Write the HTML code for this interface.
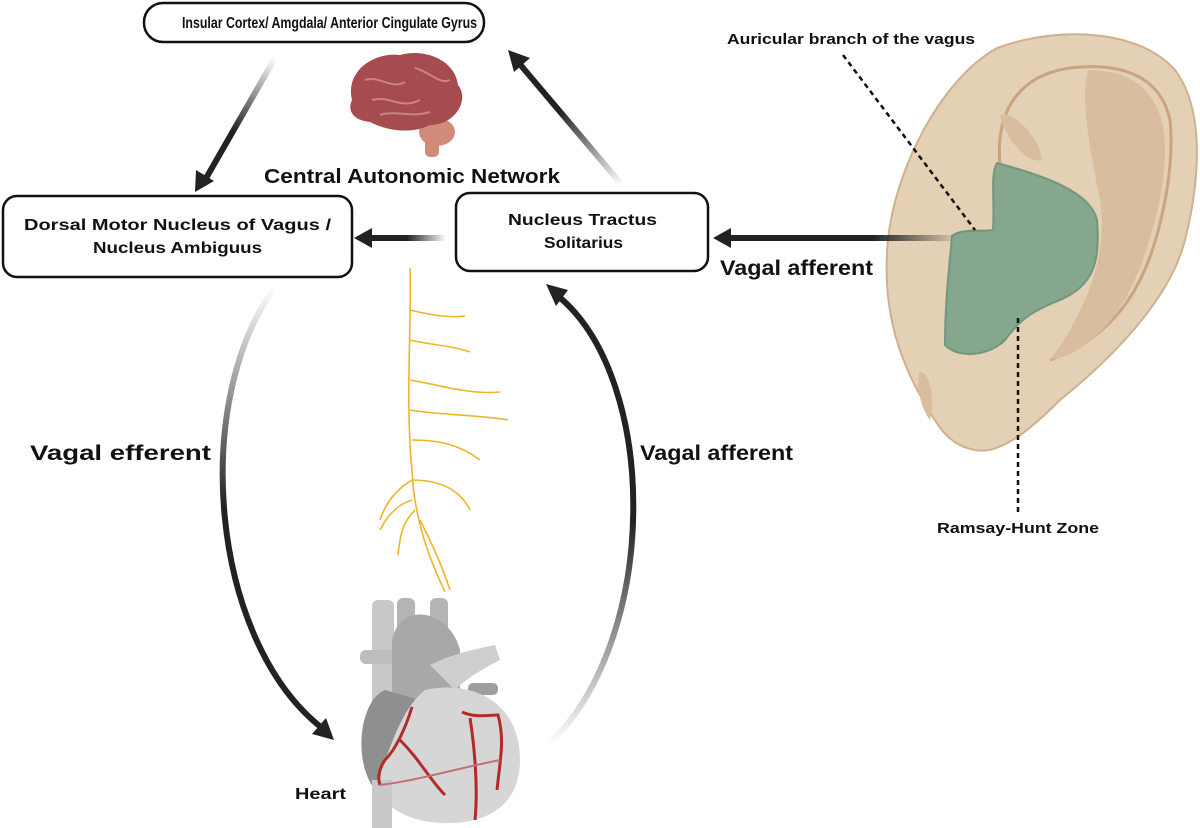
<!DOCTYPE html>
<html><head><meta charset="utf-8"><style>
body{margin:0;background:#fff}
svg{display:block}
text{font-family:"Liberation Sans",sans-serif;font-weight:bold;fill:#111}
</style></head><body>
<svg width="1200" height="828" viewBox="0 0 1200 828" xmlns="http://www.w3.org/2000/svg">
<defs>
<linearGradient id="g1" gradientUnits="userSpaceOnUse" x1="275" y1="58" x2="205" y2="180"><stop offset="0" stop-color="#222" stop-opacity="0"/><stop offset="0.6" stop-color="#222"/></linearGradient>
<linearGradient id="g2" gradientUnits="userSpaceOnUse" x1="622" y1="185" x2="518" y2="62"><stop offset="0" stop-color="#222" stop-opacity="0"/><stop offset="0.6" stop-color="#222"/></linearGradient>
<linearGradient id="gh1" gradientUnits="userSpaceOnUse" x1="446" y1="0" x2="368" y2="0"><stop offset="0" stop-color="#222" stop-opacity="0"/><stop offset="0.5" stop-color="#222"/></linearGradient>
<linearGradient id="gh2" gradientUnits="userSpaceOnUse" x1="952" y1="0" x2="728" y2="0"><stop offset="0" stop-color="#222" stop-opacity="0.1"/><stop offset="0.35" stop-color="#222"/></linearGradient>
<linearGradient id="gl" gradientUnits="userSpaceOnUse" x1="0" y1="286" x2="0" y2="730"><stop offset="0" stop-color="#222" stop-opacity="0"/><stop offset="0.5" stop-color="#222"/></linearGradient>
<linearGradient id="gr" gradientUnits="userSpaceOnUse" x1="0" y1="745" x2="0" y2="296"><stop offset="0" stop-color="#222" stop-opacity="0"/><stop offset="0.5" stop-color="#222"/></linearGradient>
</defs>
<!-- boxes -->
<rect x="144" y="3" width="340" height="39" rx="19" fill="#fff" stroke="#111" stroke-width="2.5"/>
<text x="182" y="28" font-size="16" textLength="295" lengthAdjust="spacingAndGlyphs">Insular Cortex/ Amgdala/ Anterior Cingulate Gyrus</text>
<rect x="3" y="196" width="349" height="81" rx="14" fill="#fff" stroke="#111" stroke-width="2.5"/>
<text x="24" y="230" font-size="16" textLength="307" lengthAdjust="spacingAndGlyphs">Dorsal Motor Nucleus of Vagus /</text>
<text x="93" y="253" font-size="16" textLength="169" lengthAdjust="spacingAndGlyphs">Nucleus Ambiguus</text>
<rect x="456" y="193" width="252" height="78" rx="14" fill="#fff" stroke="#111" stroke-width="2.5"/>
<text x="508" y="225" font-size="16" textLength="149" lengthAdjust="spacingAndGlyphs">Nucleus Tractus</text>
<text x="544" y="248" font-size="16" textLength="79" lengthAdjust="spacingAndGlyphs">Solitarius</text>
<!-- arrows -->
<line x1="275" y1="58" x2="205" y2="180" stroke="url(#g1)" stroke-width="6"/>
<polygon points="195,192 196,170 214,181" fill="#222"/>
<line x1="622" y1="185" x2="518" y2="62" stroke="url(#g2)" stroke-width="6"/>
<polygon points="508,50 530,58 514,72" fill="#222"/>
<line x1="446" y1="238" x2="368" y2="238" stroke="url(#gh1)" stroke-width="6"/>
<polygon points="354,238 372,228 372,248" fill="#222"/>
<path d="M276,286 C190,400 210,640 322,728" fill="none" stroke="url(#gl)" stroke-width="6"/>
<polygon points="334,740 312,734 326,718" fill="#222"/>
<path d="M548,745 C660,640 660,380 558,296" fill="none" stroke="url(#gr)" stroke-width="6"/>
<polygon points="546,284 568,290 556,306" fill="#222"/>
<!-- labels -->
<text x="264" y="183" font-size="20" textLength="296" lengthAdjust="spacingAndGlyphs">Central Autonomic Network</text>
<text x="30" y="460" font-size="21" textLength="181" lengthAdjust="spacingAndGlyphs">Vagal efferent</text>
<text x="640" y="460" font-size="21" textLength="153" lengthAdjust="spacingAndGlyphs">Vagal afferent</text>
<text x="720" y="275" font-size="21" textLength="153" lengthAdjust="spacingAndGlyphs">Vagal afferent</text>
<text x="295" y="799" font-size="16" textLength="51" lengthAdjust="spacingAndGlyphs">Heart</text>
<text x="727" y="44" font-size="15" textLength="248" lengthAdjust="spacingAndGlyphs">Auricular branch of the vagus</text>
<text x="937" y="533" font-size="15" textLength="162" lengthAdjust="spacingAndGlyphs">Ramsay-Hunt Zone</text>
<!-- brain -->
<ellipse cx="437" cy="132" rx="18" ry="14" fill="#d28b7a"/>
<rect x="425" y="130" width="14" height="27" rx="5" fill="#d28b7a"/>
<path d="M352,100 C345,70 375,52 400,55 C425,48 455,60 458,85 C470,100 455,125 430,125 C410,135 385,130 370,122 C350,120 348,108 352,100Z" fill="#a64b4f"/>
<path d="M365,80 C380,75 390,90 405,82 M372,100 C390,95 400,110 420,100 M415,68 C430,72 440,85 450,80 M380,115 C395,110 410,118 430,112" stroke="#c98585" stroke-width="2" fill="none"/>
<!-- nerve -->
<g stroke="#f0b429" stroke-width="1.6" fill="none">
<path d="M410,268 C412,320 405,400 412,470 C414,520 430,560 445,592"/>
<path d="M410,310 C430,315 450,318 465,316"/><path d="M410,340 C430,345 450,345 470,352"/>
<path d="M410,380 C440,385 470,395 500,392"/><path d="M410,410 C440,415 480,415 508,420"/>
<path d="M412,440 C440,440 460,445 480,460"/><path d="M412,480 C440,480 460,490 470,510"/>
<path d="M412,500 C395,505 385,520 380,530"/><path d="M415,510 C400,525 400,540 398,555"/>
<path d="M420,520 C430,540 440,560 450,590"/><path d="M412,480 C395,490 385,505 380,520"/>
</g>
<!-- heart -->
<g>
<rect x="372" y="600" width="22" height="120" rx="6" fill="#c8c8c8"/>
<rect x="397" y="598" width="18" height="50" rx="6" fill="#b5b5b5"/>
<rect x="430" y="598" width="18" height="60" rx="6" fill="#b5b5b5"/>
<rect x="360" y="650" width="40" height="14" rx="6" fill="#bdbdbd"/>
<path d="M392,640 C400,600 450,610 460,650 L460,700 L392,700Z" fill="#a8a8a8"/>
<path d="M430,665 C450,655 470,650 495,645 L500,660 C480,670 465,680 455,690Z" fill="#cfcfcf"/>
<rect x="468" y="683" width="30" height="12" rx="5" fill="#9e9e9e"/>
<path d="M385,690 C360,700 352,760 375,790 L420,800 L420,700Z" fill="#8f8f8f"/>
<path d="M425,690 C470,680 520,700 520,760 C520,810 480,828 430,822 C400,818 378,800 376,785 C390,750 400,710 425,690Z" fill="#d6d6d6"/>
<rect x="372" y="780" width="20" height="48" fill="#c8c8c8"/>
<g stroke="#b22a2a" stroke-width="3" fill="none">
<path d="M412,707 C405,730 395,750 385,760 C378,770 378,780 380,785"/>
<path d="M400,740 C420,760 430,780 445,795"/>
<path d="M462,712 C475,718 490,715 498,715 C505,740 500,760 497,790"/>
<path d="M470,718 C475,750 478,790 475,820"/>
</g>
<path d="M380,785 C420,780 450,770 500,760" stroke="#c07070" stroke-width="2" fill="none"/>
</g>
<!-- ear -->
<path d="M997,48 C1060,25 1140,30 1175,70 C1205,110 1200,180 1185,240 C1170,300 1110,360 1060,400 C1030,430 1000,455 975,450 C945,445 935,420 920,395 C895,350 882,300 888,240 C895,170 940,80 997,48Z" fill="#e4d0b4" stroke="#d0b090" stroke-width="2"/>
<path d="M1000,165 C995,110 1020,75 1070,68 C1120,62 1160,75 1170,120 C1175,170 1160,240 1140,280 C1120,320 1090,345 1050,360" fill="none" stroke="#c9a47f" stroke-width="3"/>
<path d="M1088,70 C1140,70 1165,100 1165,150 C1165,200 1145,260 1130,290 C1110,330 1080,355 1050,360 C1080,320 1110,260 1100,200 C1090,150 1080,100 1088,70Z" fill="#d8bd9e"/>
<path d="M1000,115 C1015,110 1040,140 1042,160 C1030,165 1005,140 1000,115Z" fill="#d8bd9e"/>
<path d="M919,372 C930,370 935,400 930,420 C922,410 916,390 919,372Z" fill="#d8bd9e"/>
<path d="M997,163 C1040,175 1090,190 1097,220 C1100,260 1095,285 1060,300 C1030,312 1020,320 1005,340 C990,355 960,360 945,345 C945,300 950,260 952,236 C960,228 985,232 993,230 C995,200 990,175 997,163Z" fill="#7fa58d" stroke="#6e937b" stroke-width="2" opacity="0.95"/>
<!-- ear arrow (over ear) -->
<line x1="952" y1="238" x2="728" y2="238" stroke="url(#gh2)" stroke-width="6"/>
<polygon points="713,238 731,228 731,248" fill="#222"/>
<!-- dashed lines -->
<line x1="843" y1="55" x2="975" y2="230" stroke="#111" stroke-width="2.5" stroke-dasharray="5,4"/>
<line x1="1018" y1="318" x2="1018" y2="515" stroke="#111" stroke-width="2.5" stroke-dasharray="5,4"/>
</svg>
</body></html>
